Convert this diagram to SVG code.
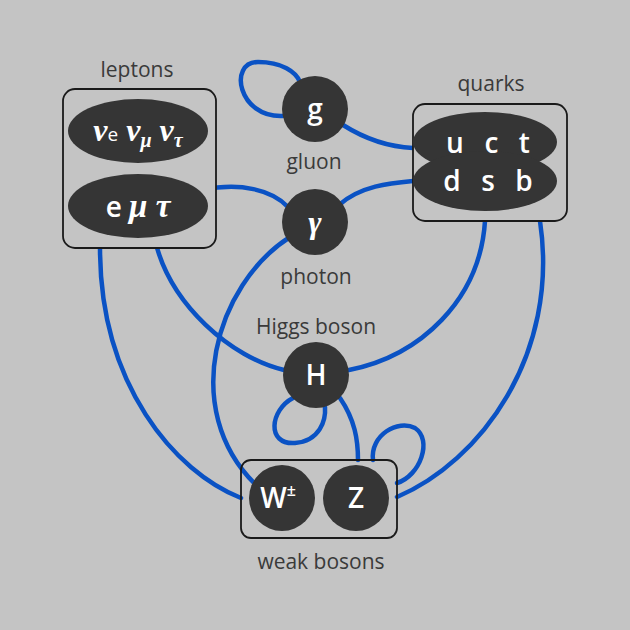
<svg xmlns="http://www.w3.org/2000/svg" width="630" height="630" viewBox="0 0 630 630">
<style>
.bg{fill:#c4c4c4}
.box{fill:#c4c4c4;stroke:#1a1a1a;stroke-width:1.8}
.n{fill:#353535}
.lbl{font-family:"Open Sans","DejaVu Sans",sans-serif;font-size:21px;fill:#3a3a3a;text-anchor:middle}
.t{font-family:"Open Sans","DejaVu Sans",sans-serif;font-size:28px;fill:#fff;text-anchor:middle;font-weight:600}
.g{font-family:"Liberation Serif",serif;font-style:italic;font-weight:bold;font-size:32px;fill:#fff;text-anchor:middle}
.c{fill:none;stroke:#0a52c4;stroke-width:4.5;stroke-linecap:round}
</style>
<rect class="bg" width="630" height="630"/>
<g id="connectors">
<path class="c" d="M283,116 C238,118 228,62 258,62 C282,62 296,72 300,82"/>
<path class="c" d="M343,125 C370,142 392,147 413,148"/>
<path class="c" d="M203,190 C240,182 272,190 288,207"/>
<path class="c" d="M339,205 C360,186 390,183 413,181"/>
<path class="c" d="M290,237 C215,285 180,410 255,484"/>
<path class="c" d="M100,248 C100,385 175,472 241,498"/>
<path class="c" d="M155,240 C170,305 232,358 284,370"/>
<path class="c" d="M349,370 C420,356 480,300 485,221"/>
<path class="c" d="M540,221 C560,355 480,462 397,497"/>
<path class="c" d="M293,398 C270,410 266,445 295,443 C320,441 326,420 325,407"/>
<path class="c" d="M340,398 C355,420 358,440 358,460"/>
<path class="c" d="M373,460 C370,435 398,419 415,428 C433,440 420,476 397,483"/>
</g>
<g id="leptons">
<rect class="box" x="63" y="89" width="153" height="159" rx="12"/>
<ellipse class="n" cx="138" cy="131" rx="70" ry="32"/>
<ellipse class="n" cx="138" cy="206" rx="70" ry="32"/>
<text class="g" x="138" y="141" font-size="34">ν<tspan font-size="19" font-weight="normal" font-style="normal" font-family="Open Sans,sans-serif">e</tspan> ν<tspan font-size="20" dy="6">μ</tspan><tspan dy="-6"> ν</tspan><tspan font-size="20" dy="6">τ</tspan></text>
<text class="t" x="138" y="217" font-weight="normal">e  <tspan style="font-family:'Liberation Serif',serif;font-style:italic;font-weight:bold;font-size:33px">μ  τ</tspan></text>
<text class="lbl" x="137" y="77">leptons</text>
</g>
<g id="quarks">
<rect class="box" x="413" y="104" width="154" height="117" rx="12"/>
<ellipse class="n" cx="485" cy="142" rx="72" ry="30"/>
<ellipse class="n" cx="485" cy="181" rx="72" ry="30"/>
<text class="t" x="489" y="153" font-weight="normal" letter-spacing="2" xml:space="preserve">u  c  t</text>
<text class="t" x="489" y="191" font-weight="normal" letter-spacing="2" xml:space="preserve">d  s  b</text>
<text class="lbl" x="491" y="91">quarks</text>
</g>
<g id="gluon">
<circle class="n" cx="315" cy="109" r="33"/>
<text class="t" x="315" y="119">g</text>
<text class="lbl" x="314" y="169">gluon</text>
</g>
<g id="photon">
<circle class="n" cx="315" cy="222" r="33"/>
<text class="g" x="315" y="233">γ</text>
<text class="lbl" x="316" y="284">photon</text>
</g>
<g id="higgs">
<circle class="n" cx="316" cy="375" r="33"/>
<text class="t" x="316" y="385">H</text>
<text class="lbl" x="316" y="334">Higgs boson</text>
</g>
<g id="weak">
<rect class="box" x="241" y="460" width="156" height="78" rx="10" style="fill:none"/>
<circle class="n" cx="282" cy="498" r="33"/>
<circle class="n" cx="356" cy="498" r="33"/>
<text class="t" x="278" y="508">W<tspan font-size="16" dy="-12">±</tspan></text>
<text class="t" x="356" y="508">Z</text>
<text class="lbl" x="321" y="569">weak bosons</text>
</g>
</svg>
